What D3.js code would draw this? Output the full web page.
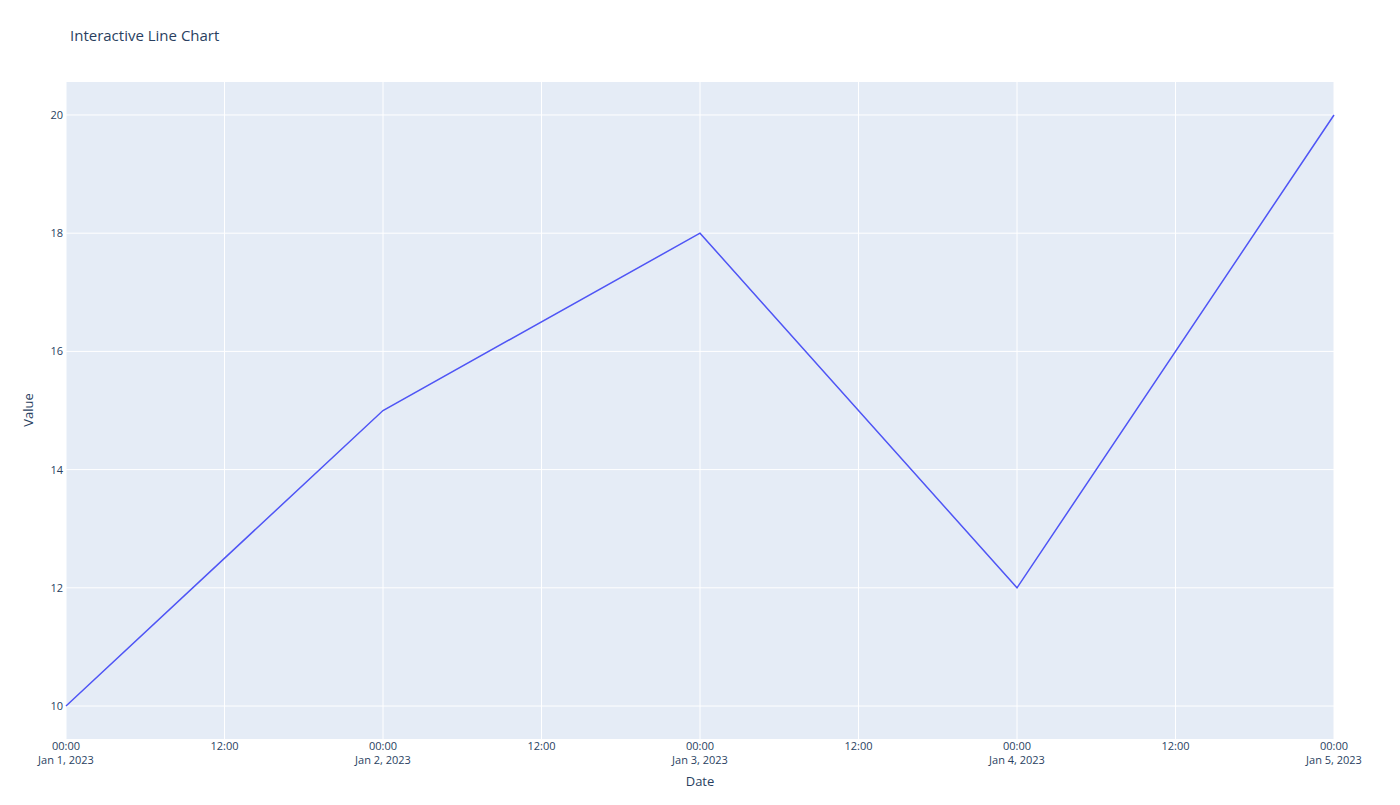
<!DOCTYPE html>
<html><head><meta charset="utf-8">
<script src="https://cdn.jsdelivr.net/npm/d3@7"></script>
<style>body{margin:0;background:#fff}text{font-family:"Open Sans",Arial,sans-serif}</style>
</head><body><svg id="c" width="1400" height="805"></svg>
<script>
const dates = ["2023-01-01","2023-01-02","2023-01-03","2023-01-04","2023-01-05"];
const values = [10,15,18,12,20];
const yTicks = [10,12,14,16,18,20];

const svg = d3.select("#c");
const L=66,R=1334,T=82,B=739;
const parse = d3.utcParse("%Y-%m-%d");
const data = dates.map((d,i)=>({d:parse(d),v:values[i]}));
const x = d3.scaleUtc().domain(d3.extent(data,d=>d.d)).range([L,R]);
const y = d3.scaleLinear().domain([9.442,20.558]).range([B,T]);

svg.append("rect").attr("x",L).attr("y",T).attr("width",R-L).attr("height",B-T).attr("fill","#e5ecf6");
const xt = d3.utcHour.every(12).range(x.domain()[0], d3.utcHour.offset(x.domain()[1],1));
svg.append("g").selectAll("line").data(xt).join("line")
 .attr("x1",d=>x(d)).attr("x2",d=>x(d)).attr("y1",T).attr("y2",B).attr("stroke","#fff").attr("stroke-width",1);
svg.append("g").selectAll("line").data(yTicks).join("line")
 .attr("x1",L).attr("x2",R).attr("y1",d=>y(d)).attr("y2",d=>y(d)).attr("stroke","#fff").attr("stroke-width",1);

svg.append("g").selectAll("text").data(xt).join("text")
 .attr("x",d=>x(d)).attr("y",750).attr("text-anchor","middle").attr("font-size",11).attr("fill","#2a3f5f")
 .text(d=>d3.utcFormat("%H:%M")(d));
svg.append("g").selectAll("text").data(xt.filter(d=>d.getUTCHours()===0)).join("text")
 .attr("x",d=>x(d)).attr("y",764).attr("text-anchor","middle").attr("font-size",11).attr("fill","#2a3f5f")
 .text(d=>d3.utcFormat("%b %-d, %Y")(d));

svg.append("g").selectAll("text").data(yTicks).join("text")
 .attr("x",L-3).attr("y",d=>y(d)+4).attr("text-anchor","end").attr("font-size",11).attr("fill","#2a3f5f").text(d=>d);

svg.append("path").datum(data).attr("fill","none").attr("stroke","#4f55f5").attr("stroke-width",1.5)
 .attr("d",d3.line().x(d=>x(d.d)).y(d=>y(d.v)));

svg.append("text").attr("x",70).attr("y",41).attr("font-size",15).attr("fill","#2a3f5f").text("Interactive Line Chart");
svg.append("text").attr("x",700).attr("y",786).attr("text-anchor","middle").attr("font-size",13).attr("fill","#2a3f5f").text("Date");
svg.append("text").attr("transform","translate(33,410) rotate(-90)").attr("text-anchor","middle").attr("font-size",13).attr("fill","#2a3f5f").text("Value");
</script></body></html>
